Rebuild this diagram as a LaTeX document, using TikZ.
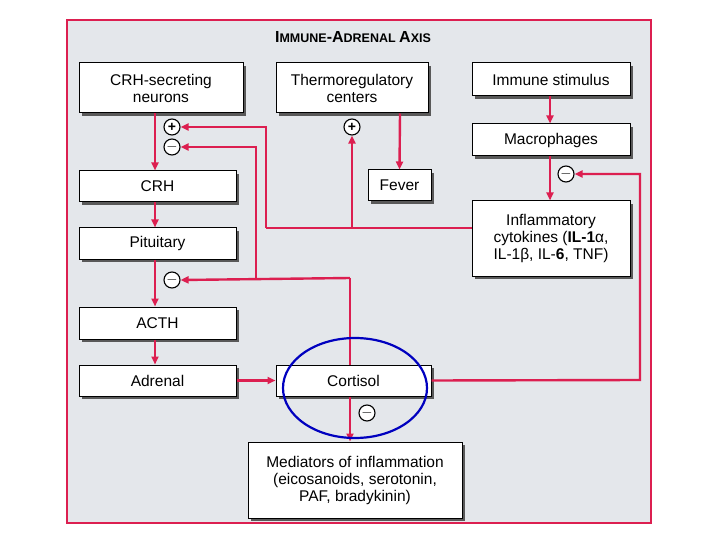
\documentclass[tikz,border=0pt]{standalone}
\usepackage{fontspec}
\setmainfont{Liberation Sans}
\usetikzlibrary{arrows.meta}
\definecolor{ln}{HTML}{DC1F50}
\definecolor{bg}{HTML}{E4E7EB}
\begin{document}
\begin{tikzpicture}[x=1pt,y=-1pt,
 box/.style={draw=black,fill=white,line width=1pt,font=\fontsize{15.5}{17}\selectfont,align=center,inner sep=0pt,
   preaction={fill=black!65,transform canvas={xshift=3pt,yshift=-3pt}}},
 sg/.style={draw=black,fill=white,circle,line width=1.1pt,inner sep=0pt,minimum size=16pt,font=\bfseries\fontsize{14}{14}\selectfont},
 ar/.style={draw=ln,line width=2.4pt,-{Triangle[length=8pt,width=7pt]}},
 pl/.style={draw=ln,line width=2.4pt}]
\useasboundingbox (0,0) rectangle (720,540);
\draw[fill=bg,draw=ln,line width=1.4pt] (67,20) rectangle (651,523);
\node[font=\bfseries\fontsize{16}{16}\selectfont] (title) at (353,37) {I\fontsize{12.5}{13}\selectfont MMUNE\fontsize{16}{16}\selectfont-A\fontsize{12.5}{13}\selectfont DRENAL \fontsize{16}{16}\selectfont A\fontsize{12.5}{13}\selectfont XIS};
\node[box,minimum width=164,minimum height=50] (crhn) at (161,88) {CRH-secreting\\neurons};
\node[box,minimum width=152,minimum height=50] (thermo) at (352,88) {Thermoregulatory\\centers};
\node[box,minimum width=158,minimum height=33] (imm) at (551,79.5) {Immune stimulus};
\node[box,minimum width=158,minimum height=32] (mac) at (551,140) {Macrophages};
\node[box,minimum width=63,minimum height=31] (fever) at (399.5,185.5) {Fever};
\node[box,minimum width=158,minimum height=75] (cyt) at (551,238.5) {Inflammatory\\cytokines (\textbf{IL-1}α,\\IL-1β, IL-\textbf{6}, TNF)};
\node[box,minimum width=157,minimum height=31] (crh) at (157.5,186.5) {CRH};
\node[box,minimum width=157,minimum height=31] (pit) at (157.5,243.5) {Pituitary};
\node[box,minimum width=157,minimum height=32] (acth) at (157.5,323) {ACTH};
\node[box,minimum width=157,minimum height=31] (adr) at (157.5,380.5) {Adrenal};
\node[box,minimum width=155,minimum height=31] (cort) at (353.5,380.5) {Cortisol};
\node[box,minimum width=214,minimum height=76] (med) at (355,480) {Mediators of inflammation\\(eicosanoids, serotonin,\\PAF, bradykinin)};
% signs
\node[sg] (p1) at (172,127) {+};
\node[sg] (m1) at (172,147) {$-$};
\node[sg] (p2) at (352,127) {+};
\node[sg] (m2) at (172,280) {$-$};
\node[sg] (m3) at (566,174) {$-$};
\node[sg] (m4) at (367,413) {$-$};
% main chain
\draw[ar] (crhn.south -| 155,0) -- (crh.north -| 155,0);
\draw[ar] (crh.south -| 155,0) -- (pit.north -| 155,0);
\draw[ar] (pit.south -| 155,0) -- (acth.north -| 155,0);
\draw[ar] (acth.south -| 155,0) -- (adr.north -| 155,0);
\draw[ar] (adr.east) -- (cort.west);
\draw[ar] (cort.south -| 350,0) -- (med.north -| 350,0);
\draw[ar] (thermo.south -| 400,0) -- (fever.north);
\draw[ar] (imm.south -| 550,0) -- (mac.north -| 550,0);
\draw[ar] (mac.south -| 550,0) -- (cyt.north -| 550,0);
% cytokine feedback
\coordinate (c1) at (266,228);
\draw[pl] (cyt.west |- c1) -- (c1);
\draw[ar] (c1) -- (266,127) -- (p1.east);
\draw[ar] (352,228) -- (p2.south);
% cortisol feedback
\coordinate (k1) at (350,278);
\draw[pl] (cort.north -| k1) -- (k1);
\draw[ar] (k1) -- (m2.east);
\draw[ar] (256,278) -- (256,147) -- (m1.east);
\draw[ar] (cort.east) -- (640,380) -- (640,174) -- (m3.east);
% ellipse
\draw[draw=blue!75!black,line width=2.2pt] (355,388) ellipse (72 and 50);
\end{tikzpicture}
\end{document}
